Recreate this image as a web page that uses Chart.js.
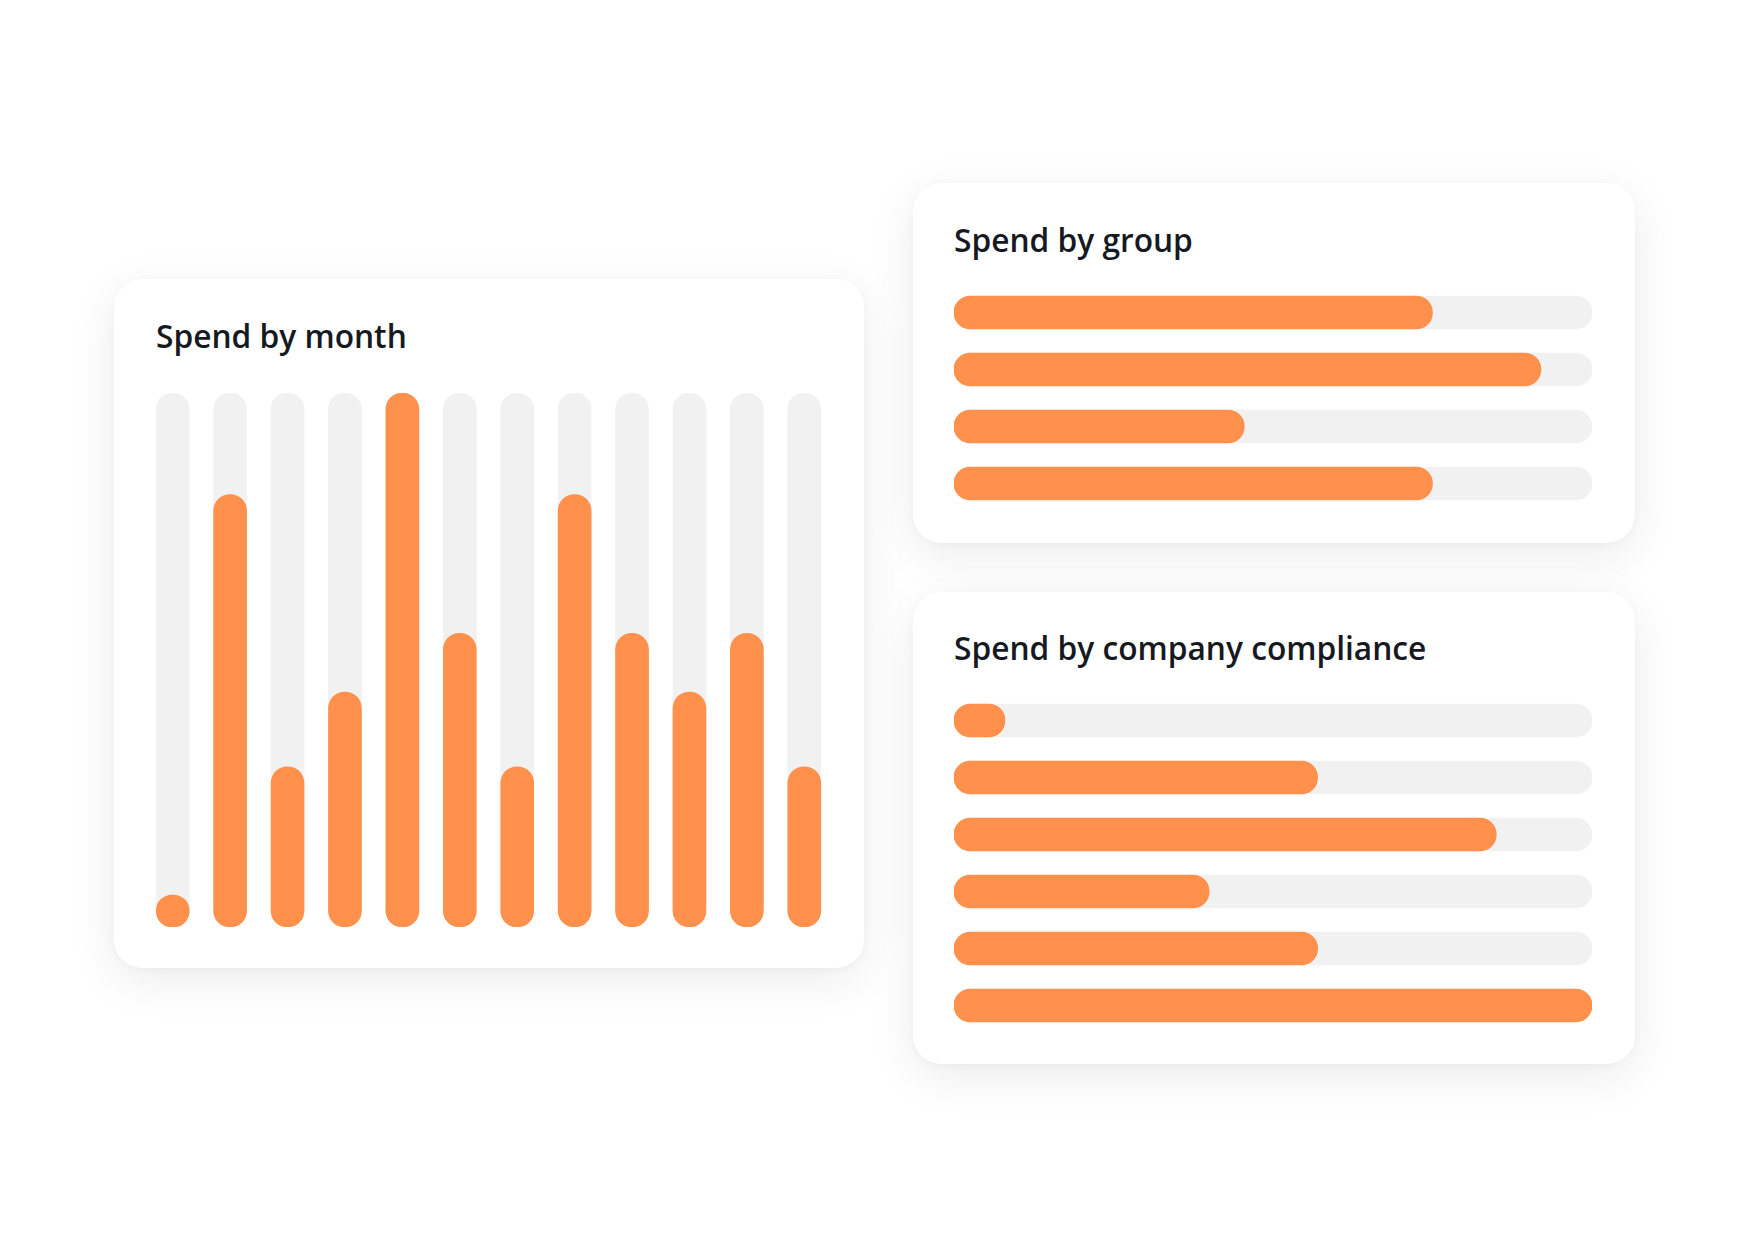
<!DOCTYPE html>
<html>
<head>
<meta charset="utf-8">
<script src="https://cdn.jsdelivr.net/npm/chart.js@4.4.1/dist/chart.umd.min.js"></script>
<style>
  html, body { margin: 0; padding: 0; background: #ffffff; }
  body { width: 1752px; height: 1248px; position: relative; overflow: hidden; font-family: "Open Sans", "Noto Sans", sans-serif; }
  .card { position: absolute; background: #ffffff; border-radius: 28px; box-shadow: 0 12px 48px rgba(0,0,0,0.08), 0 2px 8px rgba(0,0,0,0.03); }
  .title { position: absolute; margin: 0; font-size: 31.7px; font-weight: 600; color: #16191f; line-height: 40px; white-space: nowrap; letter-spacing: 0px; }
  canvas { position: absolute; }
</style>
</head>
<body>
<div class="card" style="left:114px; top:279px; width:750px; height:689px;"></div>
<div class="card" style="left:913px; top:183px; width:722px; height:360px;"></div>
<div class="card" style="left:913px; top:592px; width:722px; height:472px;"></div>

<h2 class="title" style="left:156px; top:316px;">Spend by month</h2>
<h2 class="title" style="left:954px; top:220px;">Spend by group</h2>
<h2 class="title" style="left:954px; top:628px;">Spend by company compliance</h2>

<canvas id="month" style="left:144px; top:393px;" width="689" height="534"></canvas>
<canvas id="group" style="left:954px; top:284px;" width="638" height="228"></canvas>
<canvas id="compliance" style="left:954px; top:692px;" width="638" height="342"></canvas>

<script>
// ---- data ----
const months = ['Jan', 'Feb', 'Mar', 'Apr', 'May', 'Jun', 'Jul', 'Aug', 'Sep', 'Oct', 'Nov', 'Dec'];
const monthSpend = [6, 81, 30, 44, 100, 55, 30, 81, 55, 44, 55, 30];
const monthTrack = [100, 100, 100, 100, 100, 100, 100, 100, 100, 100, 100, 100];

const groups = ['Group A', 'Group B', 'Group C', 'Group D'];
const groupSpend = [75, 92, 45.5, 75];
const groupTrack = [100, 100, 100, 100];

const complianceLevels = ['Level 1', 'Level 2', 'Level 3', 'Level 4', 'Level 5', 'Level 6'];
const complianceSpend = [8, 57, 85, 40, 57, 100];
const complianceTrack = [100, 100, 100, 100, 100, 100];

const ORANGE = '#ff914d';
const TRACK = '#f1f1f1';

function makeChart(id, labels, values, track, horizontal) {
  const valueAxis = horizontal ? 'x' : 'y';
  const catAxis = horizontal ? 'y' : 'x';
  const scales = {};
  scales[valueAxis] = { display: false, min: 0, max: 100, grid: { display: false } };
  scales[catAxis] = { display: false, grid: { display: false }, offset: true };
  return new Chart(document.getElementById(id), {
    type: 'bar',
    data: {
      labels: labels,
      datasets: [
        {
          label: 'Spend',
          data: values,
          backgroundColor: ORANGE,
          borderWidth: 0,
          borderRadius: 17,
          borderSkipped: false,
          barThickness: 33,
          grouped: false,
          order: 0
        },
        {
          label: 'Track',
          data: track,
          backgroundColor: TRACK,
          borderWidth: 0,
          borderRadius: 17,
          borderSkipped: false,
          barThickness: 33,
          grouped: false,
          order: 1
        }
      ]
    },
    options: {
      indexAxis: horizontal ? 'y' : 'x',
      responsive: false,
      maintainAspectRatio: false,
      devicePixelRatio: 1,
      animation: false,
      layout: { padding: 0 },
      plugins: { legend: { display: false }, tooltip: { enabled: false }, title: { display: false } },
      scales: scales
    }
  });
}

makeChart('month', months, monthSpend, monthTrack, false);
makeChart('group', groups, groupSpend, groupTrack, true);
makeChart('compliance', complianceLevels, complianceSpend, complianceTrack, true);
</script>
</body>
</html>
